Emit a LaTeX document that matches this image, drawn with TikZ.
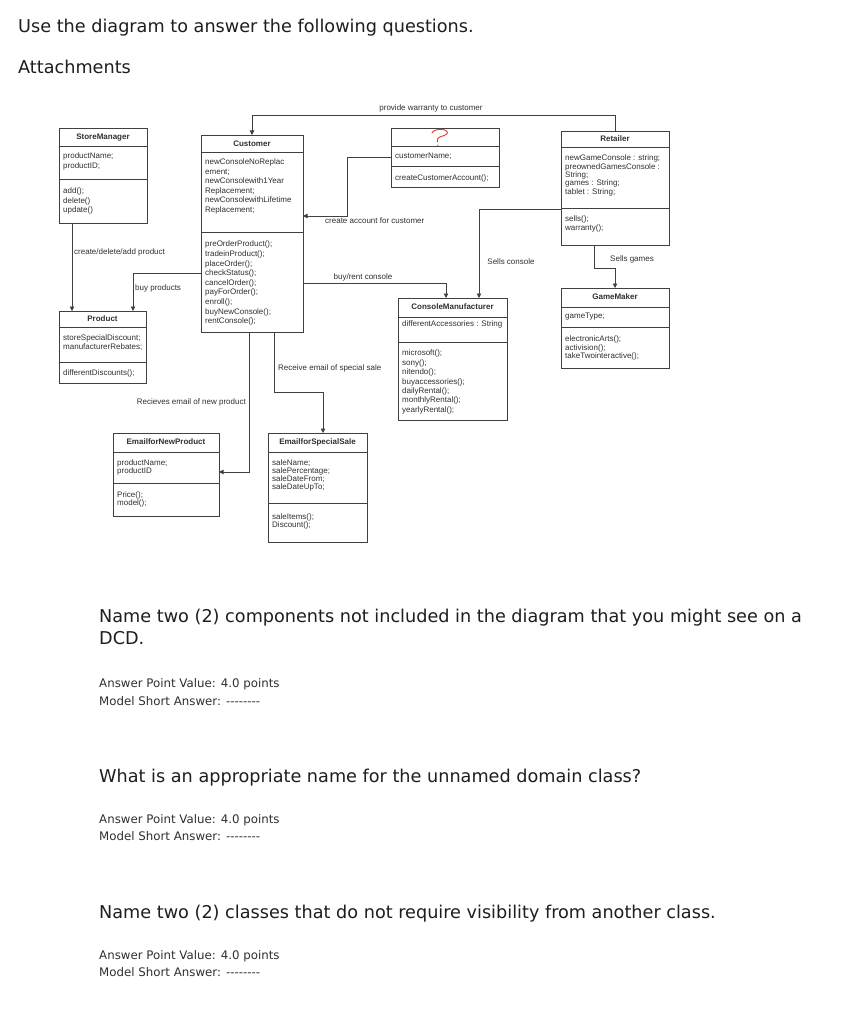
\documentclass[tikz,border=0pt]{standalone}
\usepackage{fontspec}
\setmainfont{DejaVu Sans}
\newfontfamily\diag{Liberation Sans}
\usetikzlibrary{arrows.meta}
\definecolor{linec}{HTML}{404040}
\definecolor{txtc}{HTML}{303030}
\definecolor{pagec}{HTML}{1E1E1E}
\definecolor{qred}{HTML}{E53935}
\newcommand\classbox[7]{%
  \node[cls, minimum width={#4-#2}, minimum height={#5-#3}] (#1) at (#2,#3) {};
  \draw[ln] (#2,#6) -- (#4,#6);
  \draw[ln] (#2,#7) -- (#4,#7);
}
\newcommand\dashrow{{-}{-}{-}{-}{-}{-}{-}{-}}
\tikzset{
  cls/.style={draw=linec, line width=0.85pt, inner sep=0pt, outer sep=0pt, anchor=north west},
  ln/.style={draw=linec, line width=0.85pt},
  arr/.style={draw=linec, line width=0.85pt, -{Triangle[length=4.5pt,width=4.5pt]}},
  ttl/.style={font=\diag\bfseries\fontsize{8}{9}\selectfont, text=txtc, inner sep=0pt, text height=5.8pt, text depth=1.6pt},
  att/.style={font=\diag\fontsize{8}{#1}\selectfont, text=txtc, inner sep=0pt, anchor=north west, align=left},
  att/.default=9,
  lbl/.style={font=\diag\fontsize{8}{9}\selectfont, text=txtc, inner sep=0pt, text height=5.8pt, text depth=1.6pt},
  pgq/.style={font=\fontsize{17.65}{21}\selectfont, text=pagec, inner sep=0pt, anchor=base west},
  pga/.style={font=\fontsize{11.8}{14}\selectfont, text=txtc, inner sep=0pt, anchor=base west},
}
\begin{document}
\begin{tikzpicture}[x=1pt, y=-1pt]
\useasboundingbox[fill=white] (0,0) rectangle (842,1024);

% page text
\node[pgq] (t1) at (18,32.5) {Use the diagram to answer the following questions.};
\node[pgq] (t2) at (18,74) {Attachments};

% classes
\classbox{sm}{59}{128}{147}{223}{146}{179}
\classbox{cust}{201}{135}{303}{332}{152}{232}
\classbox{q}{391}{128}{499}{187}{146}{166}
\classbox{ret}{561}{131}{669}{245}{147}{208}
\classbox{prod}{59}{311}{146}{383}{327}{362}
\classbox{cm}{398}{298}{507}{420}{317}{342}
\classbox{gm}{561}{288}{669}{368}{307}{327}
\classbox{enp}{113}{433}{219}{516}{452}{483}
\classbox{ess}{268}{433}{367}{542}{452}{503}

% titles
\node[ttl] (sm-t) at (103,137) {StoreManager};
\node[ttl] (cust-t) at (252,144) {Customer};
\node[ttl] (ret-t) at (615,139.5) {Retailer};
\node[ttl] (prod-t) at (102.5,319.5) {Product};
\node[ttl] (cm-t) at (452.5,307.5) {ConsoleManufacturer};
\node[ttl] (gm-t) at (615,297.5) {GameMaker};
\node[ttl] (enp-t) at (166,442.5) {EmailforNewProduct};
\node[ttl] (ess-t) at (317.5,442.5) {EmailforSpecialSale};

% red question mark
\draw[qred, line width=0.9pt, line cap=round, line join=round]
  (432,133) .. controls (433,129) and (446,127.5) .. (447.5,132.5)
  .. controls (448,136) and (438,136) .. (437.5,139) -- (437.5,142);
\fill[qred] (437.8,145.2) circle (0.7);

% compartments
\node[att=9.2] (sm-a) at (63,153) {productName;\\productID;};
\node[att=9.2] (sm-m) at (63,188) {add();\\delete()\\update()};
\node[att=9.5] (cust-a) at (205,159) {newConsoleNoReplac\\ement;\\newConsolewith1Year\\Replacement;\\newConsolewithLifetime\\Replacement;};
\node[att=9.6] (cust-m) at (205,241) {preOrderProduct();\\tradeinProduct();\\placeOrder();\\checkStatus();\\cancelOrder();\\payForOrder();\\enroll();\\buyNewConsole();\\rentConsole();};
\node[att] (q-a) at (395,153) {customerName;};
\node[att] (q-m) at (395,175) {createCustomerAccount();};
\node[att=8.3] (ret-a) at (565,155) {newGameConsole : string;\\preownedGamesConsole :\\String;\\games : String;\\tablet : String;};
\node[att=8.7] (ret-m) at (565,216) {sells();\\warranty();};
\node[att=9] (prod-a) at (63,334.7) {storeSpecialDiscount;\\manufacturerRebates;};
\node[att] (prod-m) at (63,370) {differentDiscounts();};
\node[att] (cm-a) at (402,321) {differentAccessories : String};
\node[att=9.4] (cm-m) at (402,350) {microsoft();\\sony();\\nitendo();\\buyaccessories();\\dailyRental();\\monthlyRental();\\yearlyRental();};
\node[att] (gm-a) at (565,313) {gameType;};
\node[att=8.4] (gm-m) at (565,336) {electronicArts();\\activision();\\takeTwointeractive();};
\node[att=8.3] (enp-a) at (117,459) {productName;\\productID};
\node[att=8] (enp-m) at (117,491) {Price();\\model();};
\node[att=8.3] (ess-a) at (272,459) {saleName;\\salePercentage;\\saleDateFrom;\\saleDateUpTo;};
\node[att=8.3] (ess-m) at (272,513) {saleItems();\\Discount();};

% connectors
\draw[arr] (ret.north) -- (ret.north |- 0,115) -| (cust.north);
\node[lbl] (l-warr) at (431,108) {provide warranty to customer};

\draw[arr] (q.west) -| (347,216) -- (cust.east |- 0,216);
\node[lbl, anchor=west] (l-acc) at (325,221) {create account for customer};

\draw[arr] (ret.west |- 0,209) -| (cm.north -| 479,0);
\node[lbl] (l-sc) at (511,262) {Sells console};

\draw[arr] (cust.east |- 0,283) -| (cm.north -| 446,0);
\node[lbl] (l-br) at (363,277) {buy/rent console};

\draw[arr] (ret.south -| 594,0) -- (594,268) -| (gm.north);
\node[lbl] (l-sg) at (632,259) {Sells games};

\draw[arr] (sm.south -| 72,0) -- (prod.north -| 72,0);
\node[lbl, anchor=west] (l-cda) at (74,252) {create/delete/add product};

\draw[arr] (cust.west |- 0,273) -| (prod.north -| 133,0);
\node[lbl, anchor=west] (l-bp) at (135,288) {buy products};

\draw[arr] (cust.south -| 249,0) |- (enp.east |- 0,472);
\node[lbl, anchor=east] (l-ren) at (246,402) {Recieves email of new product};

\draw[arr] (cust.south -| 274,0) -- (274,392) -| (ess.north -| 323,0);
\node[lbl, anchor=west] (l-res) at (278,368) {Receive email of special sale};

% questions
\node[pgq] (q1a) at (99,622) {Name two (2) components not included in the diagram that you might see on a};
\node[pgq] (q1b) at (99,644) {DCD.};
\node[pga] (a1a) at (99,687.5) {Answer Point Value: 4.0 points};
\node[pga] (a1b) at (99,705) {Model Short Answer: \dashrow};

\node[pgq] (q2) at (99,782) {What is an appropriate name for the unnamed domain class?};
\node[pga] (a2a) at (99,823) {Answer Point Value: 4.0 points};
\node[pga] (a2b) at (99,840.5) {Model Short Answer: \dashrow};

\node[pgq] (q3) at (99,918) {Name two (2) classes that do not require visibility from another class.};
\node[pga] (a3a) at (99,959) {Answer Point Value: 4.0 points};
\node[pga] (a3b) at (99,976.5) {Model Short Answer: \dashrow};
\end{tikzpicture}
\end{document}
